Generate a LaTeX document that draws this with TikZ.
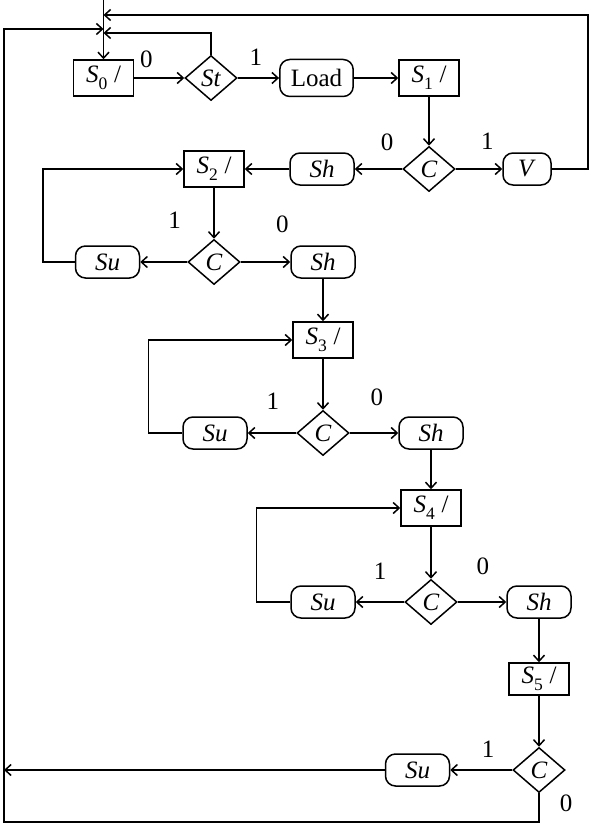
\documentclass[tikz,border=0pt]{standalone}
\usepackage{fontspec}
\setmainfont{Liberation Serif}
\usetikzlibrary{shapes.geometric,arrows.meta}

\newcommand{\sname}[1]{\textit{S}\raisebox{-3pt}{\textsubscript{#1}}\ /}
\tikzset{
  state/.style={draw,minimum width=60pt,minimum height=36pt,inner sep=0pt},
  action/.style={draw,rounded corners=10pt,minimum width=64pt,minimum height=32pt,inner xsep=11pt,inner ysep=0pt},
  test/.style={draw,diamond,minimum width=52pt,minimum height=45pt,inner sep=0pt},
  pre/.style={<-},
  post/.style={->},
  bit/.style={inner sep=0pt}
}

\begin{document}
\begin{tikzpicture}[x=1pt,y=-1pt,line width=1.5pt,>={Straight Barb[length=6pt,width=11pt]},
  every node/.style={font=\fontsize{25}{30}\selectfont}]
\useasboundingbox (0,0) rectangle (590,824);

\node[state] at (103.5,78) (s0) {\sname{0}};
\node[action,minimum height=37pt] at (316.5,78) (load) {Load};
\node[state] at (429,78) (s1) {\sname{1}};
\node[action] at (322,169) (sh1) {\textit{Sh}};
\node[action,minimum width=48pt] at (527,169) (v) {\textit{V}};
\node[state] at (214,169) (s2) {\sname{2}};
\node[action] at (107.5,262) (su2) {\textit{Su}};
\node[action] at (323,262) (sh2) {\textit{Sh}};
\node[state] at (323,340) (s3) {\sname{3}};
\node[action] at (215,433) (su3) {\textit{Su}};
\node[action] at (431,433) (sh3) {\textit{Sh}};
\node[state] at (431,508) (s4) {\sname{4}};
\node[action] at (323,602) (su4) {\textit{Su}};
\node[action] at (539,602) (sh4) {\textit{Sh}};
\node[state,minimum height=32pt] at (539,679) (s5) {\sname{5}};
\node[action] at (417.5,770) (su5) {\textit{Su}};

\node[test] at (211,78) (st) {\textit{St}}
  edge[pre] node[bit,above=9.5pt,pos=0.76]{0} (s0)
  edge[post] node[bit,above=11.5pt,pos=0.44]{1} (load);
\node[test] at (429,169) (c1) {\textit{C}}
  edge[pre] (s1)
  edge[post] node[bit,above=17.5pt,pos=0.32]{0} (sh1)
  edge[post] node[bit,above=18.5pt,pos=0.68]{1} (v);
\node[test] at (214,262) (c2) {\textit{C}}
  edge[pre] (s2)
  edge[post] node[bit,above=32.5pt,pos=0.27]{1} (su2)
  edge[post] node[bit,above=28.5pt,pos=0.84]{0} (sh2);
\node[test] at (323,433) (c3) {\textit{C}}
  edge[pre] (s3)
  edge[post] node[bit,above=22.5pt,pos=0.48]{1} (su3)
  edge[post] node[bit,above=26.5pt,pos=0.56]{0} (sh3);
\node[test] at (431,602) (c4) {\textit{C}}
  edge[pre] (s4)
  edge[post] node[bit,above=21.5pt,pos=0.5]{1} (su4)
  edge[post] node[bit,above=26.5pt,pos=0.52]{0} (sh4);
\node[test] at (539,770) (c5) {\textit{C}}
  edge[pre] (s5)
  edge[post] node[bit,above=11.5pt,pos=0.39]{1} (su5);

\draw[->] (load) -- (s1);
\draw[->] (sh1) -- (s2);
\draw[->] (sh2) -- (s3);
\draw[->] (sh3) -- (s4);
\draw[->] (sh4) -- (s5);

% loops back to the start
\coordinate (top) at (103.5,0);
\coordinate (j1) at (103.5,15);
\coordinate (j2) at (103.5,29);
\coordinate (j3) at (103.5,33);
\coordinate (r1) at (588,15);
\coordinate (bl) at (4,822);
\draw[->] (top) -- (s0);
\draw[->] (v.east) -| (r1) -- (j1);
\draw[->] (st.north) |- (j3);
\draw[->] (c5.south) -- node[bit,right=20pt,pos=0.36]{0} (c5.south |- bl) -- (bl) |- (j2);
\draw[->] (su5) -- (su5 -| bl);

\draw[->] (su2.west) -- ++(-32,0) |- (s2);
\draw[->] (su3.west) -- ++(-34,0) |- (s3);
\draw[->] (su4.west) -- ++(-34,0) |- (s4);
\end{tikzpicture}
\end{document}
